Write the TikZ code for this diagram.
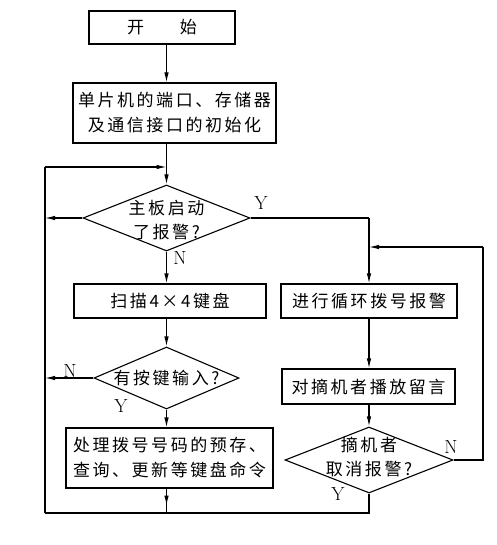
\documentclass[tikz,border=0pt]{standalone}
\usepackage{fontspec}
\newfontfamily\cjk[LetterSpace=15]{Noto Sans CJK SC}
\usetikzlibrary{shapes.geometric,arrows.meta}
\begin{document}
\begin{tikzpicture}[x=1pt,y=-1pt, line width=1.1pt,
 box/.style={draw, rectangle, inner sep=0pt, font=\cjk\fontsize{17}{25}\selectfont, align=center},
 dia/.style={draw, diamond, inner sep=0pt},
 txt/.style={font=\cjk\fontsize{17}{24}\selectfont, align=center, inner sep=0pt},
 yn/.style={font=\fontsize{19}{19}\selectfont, inner sep=0pt},
 arr/.style={-{Latex[length=10pt,width=4.5pt]}},
]
\useasboundingbox (0,0) rectangle (496,545);
\node[box, minimum width=146pt, minimum height=33pt] (start) at (162,27.5) {开\hspace{36pt}始};
\node[box, minimum width=203pt, minimum height=60pt] (init) at (174.5,113) {单片机的端口、存储器\\及通信接口的初始化};
\node[dia, minimum width=167pt, minimum height=66pt] (d1) at (166.5,218) {};
\node[txt] (d1t) at (166.5,220) {主板启动\\了报警?};
\node[box, minimum width=192pt, minimum height=34pt] (scan) at (170,301) {扫描4×4键盘};
\node[dia, minimum width=145pt, minimum height=62pt] (d2) at (166.5,378) {};
\node[txt] (d2t) at (166.5,378) {有按键输入?};
\node[box, minimum width=207pt, minimum height=60pt] (proc) at (169.5,458) {处理拨号号码的预存、\\查询、更新等键盘命令};
\node[box, minimum width=176pt, minimum height=34pt] (alarm) at (369,301) {进行循环拨号报警};
\node[box, minimum width=173pt, minimum height=35pt] (play) at (368.5,386.5) {对摘机者播放留言};
\node[dia, minimum width=168pt, minimum height=66pt] (d3) at (369,460) {};
\node[txt] (d3t) at (369,457) {摘机者\\取消报警?};
\coordinate (lt) at (45,167);
\coordinate (lb) at (45,513);
\coordinate (rb) at (369,513);
\coordinate (rt) at (483,247);
\coordinate (rj) at (369,247);
\coordinate (rr) at (369,218);
\draw[arr] (start.south -| d1.north) -- (init.north -| d1.north);
\draw[arr] (init.south -| d1.north) -- (d1.north);
\draw (lb) -- (lt);
\draw[arr] (lt) -- (lt -| d1.north);
\draw[arr] (d1.west) -- (d1.west -| lt);
\draw[arr] (d1.south) -- (scan.north -| d1.south);
\draw (d1.east) -- (rr);
\draw[arr] (rr) -- (alarm.north);
\draw[arr] (scan.south -| d2.north) -- (d2.north);
\draw[arr] (d2.west) -- (d2.west -| lt);
\draw[arr] (d2.south) -- (proc.north -| d2.south);
\draw (proc.south -| d2.south) -- (lb -| d2.south);
\draw[arr] (proc.south -| d2.south) -- ++(0,17);
\draw (lb) -- (rb) -- (d3.south);
\draw[arr] (alarm.south) -- (play.north -| alarm.south);
\draw[arr] (play.south -| d3.north) -- (d3.north);
\draw (d3.east) -- (d3.east -| rt) -- (rt);
\draw[arr] (rt) -- (rj);
\node[yn] (ly1) at (261,203) {Y};
\node[yn] (ln1) at (180,258) {N};
\node[yn] (ln2) at (70,371) {N};
\node[yn] (ly2) at (121,406) {Y};
\node[yn] (ln3) at (451,447) {N};
\node[yn] (ly3) at (338,494) {Y};
\end{tikzpicture}
\end{document}
